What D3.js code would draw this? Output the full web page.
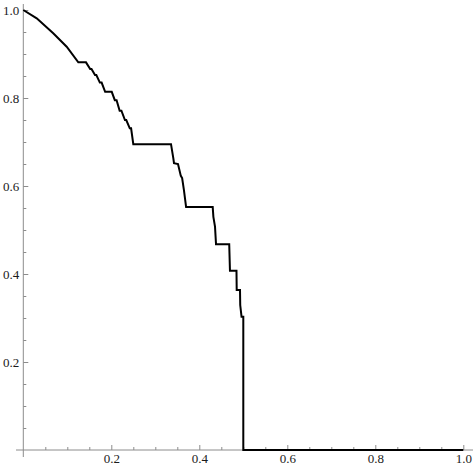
<!DOCTYPE html>
<html>
<head>
<meta charset="utf-8">
<script src="https://cdn.jsdelivr.net/npm/d3@7"></script>
<style>
    body { margin: 0; background: #fff; }
    svg { display: block; }
</style>
</head>
<body>
<div id="chart"></div>
<script>
// curve vertices (x, y)
var curveX = [0, 0.0305, 0.068, 0.0986, 0.125, 0.1425, 0.152, 0.155, 0.163, 0.166, 0.174, 0.178, 0.186,
    0.201, 0.208, 0.212, 0.219, 0.223, 0.231, 0.234, 0.242, 0.245, 0.25, 0.3357,
    0.341, 0.3425, 0.3516, 0.358, 0.361, 0.365, 0.37, 0.4305,
    0.432, 0.4357, 0.438, 0.468, 0.4697, 0.4845, 0.485, 0.4925, 0.493, 0.496, 0.5, 0.5, 1.0];
var curveY = [1.0, 0.981, 0.947, 0.9166, 0.881, 0.881, 0.866, 0.866, 0.852, 0.852, 0.835, 0.835, 0.814,
    0.814, 0.795, 0.795, 0.771, 0.771, 0.75, 0.75, 0.731, 0.731, 0.695, 0.695,
    0.663, 0.652, 0.65, 0.623, 0.618, 0.591, 0.552, 0.552,
    0.530, 0.5075, 0.4675, 0.4675, 0.4075, 0.4075, 0.3636, 0.3636, 0.3295, 0.303, 0.303, 0, 0];

var majorTicks = [0.2, 0.4, 0.6, 0.8, 1.0];
var minorTicks = [0.05, 0.1, 0.15, 0.25, 0.3, 0.35, 0.45, 0.5, 0.55, 0.65, 0.7, 0.75, 0.85, 0.9, 0.95];

var width = 474, height = 470;

var svg = d3.select("#chart")
    .append("svg")
    .attr("width", width)
    .attr("height", height);

var x = d3.scaleLinear().domain([0, 1]).range([23.3, 463.3]);
var y = d3.scaleLinear().domain([0, 1]).range([450, 10]);

var axisColor = "#8c8c8c";
var labelFont = "'Liberation Serif', 'Times New Roman', serif";

// minor ticks
svg.append("g")
    .attr("transform", "translate(0," + y(0) + ")")
    .call(d3.axisBottom(x).tickValues(minorTicks).tickSize(-3).tickFormat(""))
    .call(function (g) { g.select(".domain").remove(); });
svg.append("g")
    .attr("transform", "translate(" + x(0) + ",0)")
    .call(d3.axisLeft(y).tickValues(minorTicks).tickSize(-3).tickFormat(""))
    .call(function (g) { g.select(".domain").remove(); });

// major ticks + labels
var xAxis = svg.append("g")
    .attr("transform", "translate(0," + y(0) + ")")
    .call(d3.axisBottom(x).tickValues(majorTicks).tickSize(-5).tickPadding(4).tickFormat(d3.format(".1f")));
xAxis.select(".domain").remove();

var yAxis = svg.append("g")
    .attr("transform", "translate(" + x(0) + ",0)")
    .call(d3.axisLeft(y).tickValues(majorTicks).tickSize(-5).tickPadding(4).tickFormat(d3.format(".1f")));
yAxis.select(".domain").remove();

svg.selectAll("g")
    .attr("font-family", labelFont)
    .attr("font-size", 13);
svg.selectAll(".tick text")
    .attr("font-family", labelFont)
    .attr("font-size", 13)
    .attr("fill", "#1a1a1a");
svg.selectAll(".tick line").attr("stroke", axisColor);

// axis lines (extend a bit past the origin like the original)
svg.append("line")
    .attr("x1", 16).attr("x2", 473)
    .attr("y1", y(0)).attr("y2", y(0))
    .attr("stroke", axisColor).attr("stroke-width", 1);
svg.append("line")
    .attr("x1", x(0)).attr("x2", x(0))
    .attr("y1", 457).attr("y2", 4)
    .attr("stroke", axisColor).attr("stroke-width", 1);

// the curve
var points = curveX.map(function (d, i) { return [d, curveY[i]]; });
var line = d3.line()
    .x(function (d) { return x(d[0]); })
    .y(function (d) { return y(d[1]); });

svg.append("path")
    .datum(points)
    .attr("fill", "none")
    .attr("stroke", "#000")
    .attr("stroke-width", 2)
    .attr("stroke-linejoin", "miter")
    .attr("d", line);
</script>
</body>
</html>
